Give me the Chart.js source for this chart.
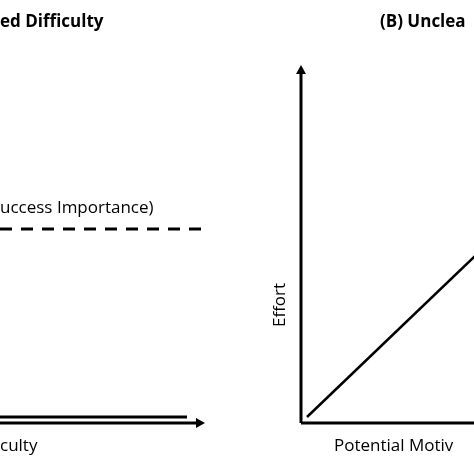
<!DOCTYPE html>
<html>
<head>
<meta charset="utf-8">
<script src="https://cdn.jsdelivr.net/npm/chart.js@4"></script>
<style>
  html, body { margin: 0; padding: 0; background: #fff; }
  #wrap { width: 474px; height: 474px; }
</style>
</head>
<body>
<div id="wrap"><canvas id="c"></canvas></div>
<script>
// panel A (cropped): success importance, difficulty axis
const dashedLine = [{ x: 0, y: 229 }, { x: 205, y: 229 }];
const solidLine = [{ x: 0, y: 417 }, { x: 187, y: 417 }];
const axisA_x = [{ x: 0, y: 423 }, { x: 198, y: 423 }];
// panel B: effort vs potential motivation
const axisB_y = [{ x: 301, y: 423 }, { x: 301, y: 72 }];
const axisB_x = [{ x: 301, y: 423 }, { x: 480, y: 423 }];
const effortLine = [{ x: 307, y: 417 }, { x: 476, y: 255 }];

const labels = [
  { text: 'ed Difficulty', x: 0, y: 22, bold: true, align: 'left' },
  { text: '(B) Unclea', x: 380, y: 22, bold: true, align: 'left' },
  { text: 'uccess Importance)', x: 0, y: 208, align: 'left' },
  { text: 'culty', x: 0, y: 446, align: 'left' },
  { text: 'Potential Motiv', x: 334, y: 446, align: 'left' },
  { text: 'Effort', x: 280, y: 305, rotate: true, align: 'center' }
];

const arrows = [
  { x: 205, y: 423, dir: 'right' },
  { x: 301, y: 65, dir: 'up' }
];

function lineSet(data, width, dash) {
  return {
    data, showLine: true, borderColor: '#000', borderWidth: width,
    borderDash: dash || [], pointRadius: 0, borderCapStyle: 'butt'
  };
}

const annotate = {
  id: 'annotate',
  afterDatasetsDraw(chart) {
    const ctx = chart.ctx, sx = chart.scales.x, sy = chart.scales.y;
    ctx.save();
    ctx.fillStyle = '#000';
    arrows.forEach(a => {
      const px = sx.getPixelForValue(a.x), py = sy.getPixelForValue(a.y);
      ctx.beginPath();
      if (a.dir === 'right') {
        ctx.moveTo(px, py); ctx.lineTo(px - 9, py - 5); ctx.lineTo(px - 9, py + 5);
      } else {
        ctx.moveTo(px, py); ctx.lineTo(px - 5, py + 9); ctx.lineTo(px + 5, py + 9);
      }
      ctx.closePath(); ctx.fill();
    });
    ctx.textBaseline = 'middle';
    labels.forEach(l => {
      ctx.font = (l.bold ? 'bold ' : '') + '17px "Open Sans", sans-serif';
      ctx.textAlign = l.align;
      const px = sx.getPixelForValue(l.x), py = sy.getPixelForValue(l.y);
      if (l.rotate) {
        ctx.save(); ctx.translate(px, py); ctx.rotate(-Math.PI / 2);
        ctx.fillText(l.text, 0, 0); ctx.restore();
      } else {
        ctx.fillText(l.text, px, py);
      }
    });
    ctx.restore();
  }
};

new Chart(document.getElementById('c'), {
  type: 'scatter',
  data: {
    datasets: [
      lineSet(dashedLine, 3, [12, 9]),
      lineSet(solidLine, 3),
      lineSet(axisA_x, 3),
      lineSet(axisB_y, 3),
      lineSet(axisB_x, 3),
      lineSet(effortLine, 2.5)
    ]
  },
  options: {
    responsive: true, maintainAspectRatio: false, animation: false,
    layout: { padding: 0 },
    plugins: { legend: { display: false }, tooltip: { enabled: false } },
    scales: {
      x: { type: 'linear', min: 0, max: 474, display: false },
      y: { type: 'linear', min: 0, max: 474, reverse: true, display: false }
    }
  },
  plugins: [annotate]
});
</script>
</body>
</html>
